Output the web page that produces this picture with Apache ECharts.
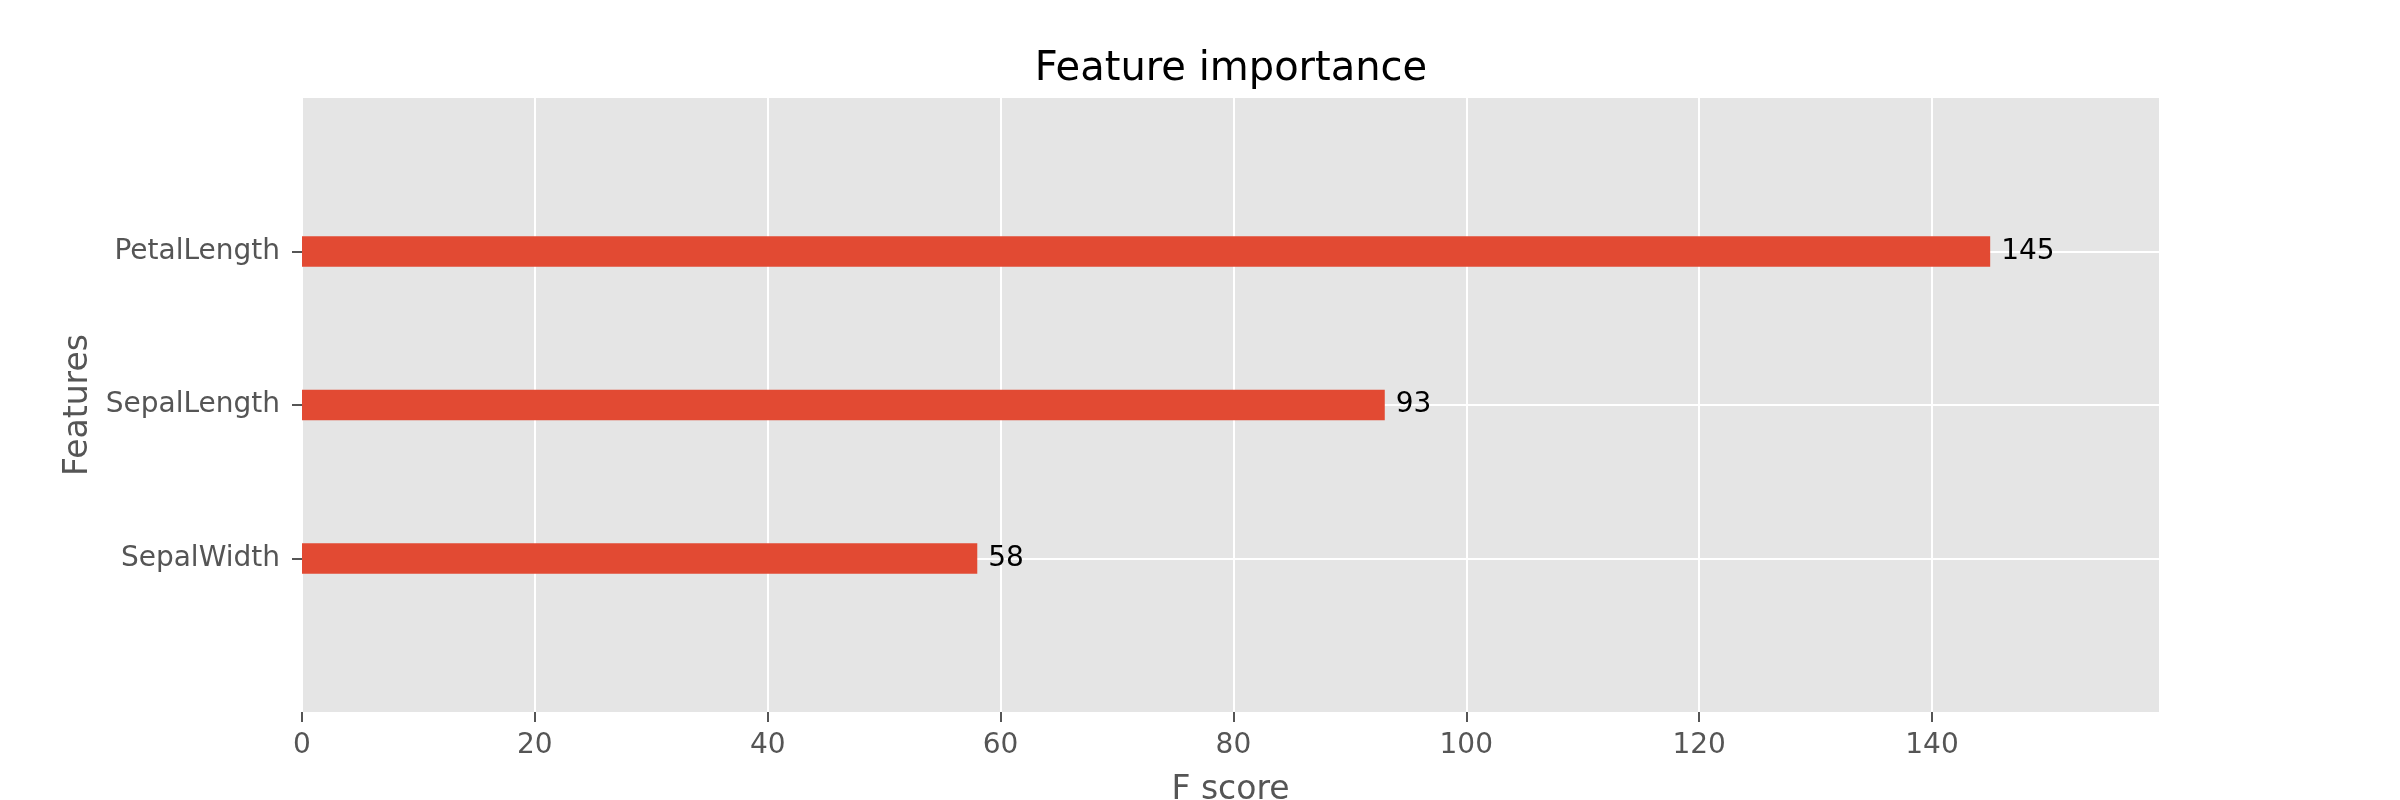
<!DOCTYPE html>
<html>
<head>
<meta charset="utf-8">
<script src="https://cdn.jsdelivr.net/npm/echarts@6/dist/echarts.min.js"></script>
<style>html,body{margin:0;padding:0;background:#fff}#c{width:2400px;height:800px}</style>
</head>
<body>
<div id="c"></div>
<script>
// Data (bottom to top as drawn)
const categories = ['SepalWidth', 'SepalLength', 'PetalLength'];
const fScores = [58, 93, 145];
const xTicks = [0, 20, 40, 60, 80, 100, 120, 140];
const xMax = Math.max(...fScores) * 1.1;

const FONT = 'DejaVu Sans';
// pad the category axis with one empty slot on each side (ylim -1..n)
const axisCats = ['__lo__'].concat(categories, ['__hi__']);
const isReal = (idx) => idx >= 1 && idx <= categories.length;

const chart = echarts.init(document.getElementById('c'), null, {renderer: 'canvas'});
chart.setOption({
  backgroundColor: '#ffffff',
  animation: false,
  textStyle: {fontFamily: FONT},
  title: {
    text: 'Feature importance',
    left: 1226,
    textAlign: 'center',
    top: 45,
    textStyle: {fontFamily: FONT, fontSize: 40, fontWeight: 'normal', color: '#000000'}
  },
  grid: {
    left: 302, right: 241, top: 98, bottom: 88,
    containLabel: false,
    outerBoundsMode: 'none',
    show: true, backgroundColor: '#E5E5E5', borderWidth: 0
  },
  xAxis: {
    type: 'value',
    min: 0,
    max: xMax,
    interval: 20,
    name: 'F score',
    nameLocation: 'middle',
    nameGap: 62,
    nameTextStyle: {fontFamily: FONT, fontSize: 33, color: '#555555'},
    axisLine: {show: false},
    axisTick: {show: true, length: 10, customValues: xTicks, lineStyle: {color: '#555555', width: 2}},
    axisLabel: {show: true, customValues: xTicks, margin: 20, fontFamily: FONT, fontSize: 28, color: '#555555'},
    splitLine: {show: true, lineStyle: {color: '#ffffff', width: 2}}
  },
  yAxis: {
    type: 'category',
    data: axisCats,
    boundaryGap: false,
    name: 'Features',
    nameLocation: 'middle',
    nameGap: 201,
    nameTextStyle: {fontFamily: FONT, fontSize: 33, color: '#555555'},
    axisLine: {show: false},
    axisTick: {show: true, length: 10, interval: (i) => isReal(i), lineStyle: {color: '#555555', width: 2}},
    axisLabel: {show: true, interval: (i) => isReal(i), margin: 22, fontFamily: FONT, fontSize: 28, color: '#555555'},
    splitLine: {show: true, interval: (i) => isReal(i), lineStyle: {color: '#ffffff', width: 2}}
  },
  series: [{
    type: 'bar',
    data: categories.map((c, i) => [fScores[i], c]),
    barWidth: '20%',
    itemStyle: {color: '#E24A33'},
    label: {
      show: true,
      position: 'right',
      distance: 11,
      formatter: (p) => String(p.value[0]),
      fontFamily: FONT,
      fontSize: 28,
      color: '#000000'
    }
  }]
});
</script>
</body>
</html>
